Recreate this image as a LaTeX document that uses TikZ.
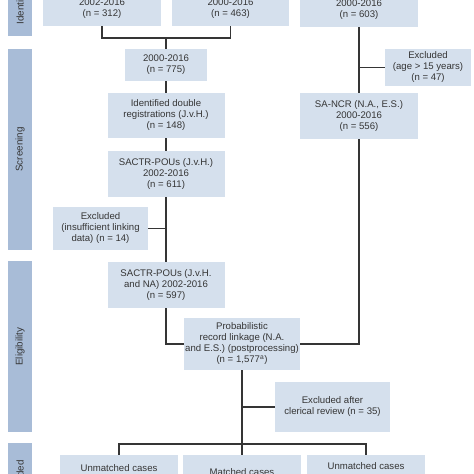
\documentclass[tikz,border=0pt]{standalone}
\usepackage{fontspec}
\setmainfont{Liberation Sans}
\definecolor{boxfill}{HTML}{D5E0ED}
\definecolor{barfill}{HTML}{A8BCD7}
\definecolor{inkgray}{HTML}{353535}
\tikzset{
  box/.style={fill=boxfill, text=inkgray, align=center, inner sep=0pt, font=\fontsize{9.6}{11}\selectfont},
  phase/.style={fill=barfill, text=inkgray, rotate=90, inner sep=0pt, minimum height=24, font=\fontsize{9.8}{10}\selectfont},
  link/.style={draw=inkgray, line width=1.1pt}
}
\begin{document}
\begin{tikzpicture}[x=1pt,y=-1pt]
                \useasboundingbox (0,0) rectangle (474,474);

                \node[phase, minimum width=78] (identBar) at (20,-3) {Identification};
                \node[phase, minimum width=201] (screenBar) at (20,149.5) {Screening};
                \node[phase, minimum width=171] (eligBar) at (20,346.5) {Eligibility};
                \node[phase, minimum width=72] (inclBar) at (20,479) {Included};

                \node[box, minimum width=118, minimum height=34] (srcA) at (102,9) {2002-2016\\(n = 312)};
                \node[box, minimum width=117, minimum height=34] (srcB) at (230.5,9) {2000-2016\\(n = 463)};
                \node[box, minimum width=118, minimum height=35] (srcC) at (359,9.5) {2000-2016\\(n = 603)};
                \coordinate (brk) at (166,38);

                \node[box, minimum width=82, minimum height=32] (merged) at (166,65) {2000-2016\\(n = 775)};
                \node[box, minimum width=117, minimum height=45] (doubles) at (166,115.5) {Identified double\\registrations (J.v.H.)\\(n = 148)};
                \node[box, minimum width=117, minimum height=46] (pouA) at (166,174) {SACTR-POUs (J.v.H.)\\2002-2016\\(n = 611)};
                \node[box, minimum width=95, minimum height=43] (exclLink) at (100.5,228.5) {Excluded\\(insufficient linking\\data) (n = 14)};
                \node[box, minimum width=117, minimum height=46] (pouB) at (166,285) {SACTR-POUs (J.v.H.\\and NA) 2002-2016\\(n = 597)};

                \node[box, minimum width=86, minimum height=37] (exclAge) at (428,67.5) {Excluded\\(age > 15 years)\\(n = 47)};
                \node[box, minimum width=118, minimum height=46] (sancr) at (359,116) {SA-NCR (N.A., E.S.)\\2000-2016\\(n = 556)};

                \node[box, minimum width=116, minimum height=52] (linkage) at (242,344) {Probabilistic\\record linkage (N.A.\\and E.S.) (postprocessing)\\(n = 1,577\textsuperscript{a})};
                \node[box, minimum width=115, minimum height=50] (exclReview) at (332.5,407) {Excluded after\\clerical review (n = 35)};
                \coordinate (split) at (242,444);

                \node[box, minimum width=118, minimum height=26] (unmL) at (119,468) {Unmatched cases};
                \node[box, minimum width=118, minimum height=34] (matched) at (242,472) {Matched cases};
                \node[box, minimum width=118, minimum height=22] (unmR) at (366,466) {Unmatched cases};

                \draw[link] (srcA) |- (brk) -| (srcB);
                \draw[link] (brk) -- (merged);
                \draw[link] (merged) -- (doubles);
                \draw[link] (doubles) -- (pouA);
                \draw[link] (pouA) -- (pouB);
                \draw[link] (exclLink) -- (exclLink -| pouA);
                \draw[link] (pouB) |- (linkage);
                \draw[link] (srcC) -- (sancr);
                \draw[link] (exclAge) -- (exclAge -| srcC);
                \draw[link] (sancr) |- (linkage);
                \draw[link] (linkage) -- (matched);
                \draw[link] (exclReview) -- (exclReview -| linkage);
                \draw[link] (unmL) |- (split) -| (unmR);
            \end{tikzpicture}
\end{document}
